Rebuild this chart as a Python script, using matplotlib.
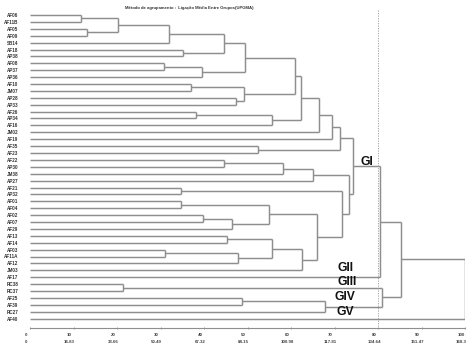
import matplotlib
matplotlib.use("Agg")
import matplotlib.pyplot as plt
import matplotlib.transforms as mtransforms

# ---------------- data ----------------
leaves = ["AF06", "AF11B", "AF05", "AF09", "SB14", "AF18", "AP38", "AF08", "AP37", "AP36",
          "AF10", "JM07", "AP28", "AP33", "AF26", "AP34", "AF16", "JM02", "AF19", "AF35",
          "AF23", "AF22", "AP30", "JM38", "AP27", "AF21", "AP32", "AF01", "AF04", "AF02",
          "AF07", "AF29", "AF13", "AF14", "AF03", "AF11A", "AF12", "JM03", "AF17", "RC38",
          "RC37", "AF25", "AF39", "RC27", "AF40"]

# merges: children are leaf names (str) or earlier merge indices (int)
merge_a = ["AF06", "AF05", 0, 2, "AF18", 3, "AF08", 6, 5, "AF10",
           "AP28", 9, 8, "AF26", 13, 12, 15, 16, "AF35", 17,
           "AF22", 20, 21, "AF21", "AF01", "AF02", 25, 24, "AF13", "AF03",
           29, 28, 31, 27, 23, 22, 19, 36, "RC38", "AF25",
           39, 38, 37, 42]
merge_b = ["AF11B", "AF09", 1, "SB14", "AP38", 4, "AP37", "AP36", 7, "JM07",
           "AP33", 10, 11, "AP34", "AF16", 14, "JM02", "AF19", "AF23", 18,
           "AP30", "JM38", "AP27", "AP32", "AF04", "AF07", "AF29", 26, "AF14", "AF11A",
           "AF12", 30, "JM03", 32, 33, 34, 35, "AF17", "RC37", "AF39",
           "RC27", 40, 41, "AF40"]
merge_h = [11.7, 13.1, 20.2, 32.0, 35.1, 44.6, 30.9, 39.5, 49.4, 37.0,
           47.3, 49.2, 60.9, 38.2, 55.6, 62.2, 66.4, 69.4, 52.5, 71.3,
           44.6, 58.2, 65.1, 34.6, 34.6, 39.8, 46.4, 55.0, 45.2, 31.0,
           47.9, 55.6, 62.5, 65.9, 71.7, 73.4, 74.3, 80.4, 21.4, 48.8,
           67.8, 80.9, 85.4, 100.0]

rescaled_ticks = [0, 10, 20, 30, 40, 50, 60, 70, 80, 90, 100]
distance_labels = ["0", "16.83", "33.66", "50.49", "67.32", "84.15",
                   "100.98", "117.81", "134.64", "151.47", "168.3"]
cut_level = 80
group_names = ["GI", "GII", "GIII", "GIV", "GV"]
title = "Método de agrupamento :  Ligação Média Entre Grupos(UPGMA)"

# ---------------- figure ----------------
W, H = 474, 356
fig = plt.figure(figsize=(W / 100, H / 100), dpi=100)
ax_left, ax_right, ax_top, ax_bottom = 30, 465, 10, 328
ax = fig.add_axes([ax_left / W, (H - ax_bottom) / H,
                   (ax_right - ax_left) / W, (ax_bottom - ax_top) / H])

row0, drow = 15.0, 6.9
ymin = (ax_top - row0) / drow
ymax = (ax_bottom - row0) / drow
ax.set_xlim(0, 100)
ax.set_ylim(ymax, ymin)

lc = "#8e8e8e"
lw = 1.05

pos = {name: i for i, name in enumerate(leaves)}
ypos = []


def node(c):
    if isinstance(c, str):
        return pos[c], 0.0
    return ypos[c], merge_h[c]


for k in range(len(merge_h)):
    ya, ha = node(merge_a[k])
    yb, hb = node(merge_b[k])
    h = merge_h[k]
    ax.plot([ha, h], [ya, ya], color=lc, lw=lw, solid_capstyle="butt")
    ax.plot([hb, h], [yb, yb], color=lc, lw=lw, solid_capstyle="butt")
    ax.plot([h, h], [ya, yb], color=lc, lw=lw, solid_capstyle="butt")
    ypos.append((ya + yb) / 2)

# cut line
ax.plot([cut_level, cut_level], [ymin, ymax], color="#9a9a9a", lw=0.6,
        linestyle=(0, (1.5, 1.5)))

# group labels
gpos = [(78.9, 21.35), (74.4, 36.7), (75.0, 38.7), (74.9, 40.85), (74.4, 43.0)]
for name, (gx, gy) in zip(group_names, gpos):
    ax.text(gx, gy, name, ha="right", va="center", fontsize=8.7,
            fontweight="bold", family="Liberation Sans", color="#111111")

# leaf labels
ax.set_yticks(range(len(leaves)))
ax.set_yticklabels(leaves, fontsize=3.3, fontweight="bold",
                   family="Liberation Sans", color="#333333")
ax.tick_params(axis="y", length=0, pad=8.3)

# x axis
for s in ["top", "right", "left"]:
    ax.spines[s].set_visible(False)
ax.spines["bottom"].set_color(lc)
ax.spines["bottom"].set_linewidth(0.8)
ax.set_xticks(rescaled_ticks)
ax.set_xticklabels([f"{t}\n{d}" for t, d in zip(rescaled_ticks, distance_labels)],
                   fontsize=3.2, fontweight="bold", family="Liberation Sans",
                   color="#444444", linespacing=1.9)
ax.tick_params(axis="x", direction="inout", length=2.0, width=0.6, color=lc, pad=2.5)
shift = mtransforms.ScaledTranslation(-4 / 100, 0, fig.dpi_scale_trans)
for lab in ax.get_xticklabels():
    lab.set_transform(lab.get_transform() + shift)

fig.text(189 / W, 1 - 8 / H, title, ha="center", va="center", fontsize=3.1,
         fontweight="bold", family="Liberation Sans", color="#333333")

fig.savefig("out.png", dpi=100)
